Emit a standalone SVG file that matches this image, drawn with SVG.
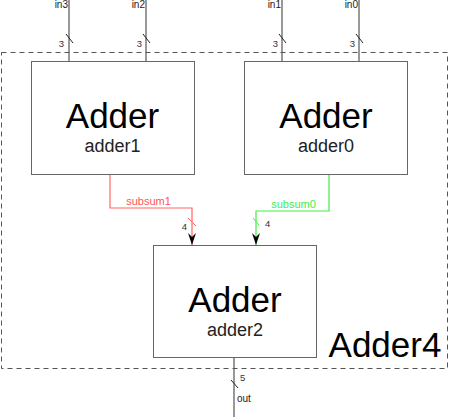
<svg xmlns="http://www.w3.org/2000/svg" width="450" height="417" viewBox="0 0 450 417">
<style>
.box{fill:#fff;stroke:#666;stroke-width:1}
.wire{fill:none;stroke:#555;stroke-width:1.2}
.red{fill:none;stroke:#ff6666;stroke-width:1.2}
.green{fill:none;stroke:#44ee44;stroke-width:1.2}
.tick{stroke:#222;stroke-width:1}
.big{font-family:"Liberation Sans",Arial,sans-serif;font-size:35px;fill:#000;text-anchor:middle}
.inst{font-family:"Liberation Sans",Arial,sans-serif;font-size:18px;fill:#222;text-anchor:middle}
.lbl{font-family:"Liberation Sans",Arial,sans-serif;font-size:10px;fill:#222}
.w{font-family:"Liberation Sans",Arial,sans-serif;font-size:9.5px;fill:#333}
.sig{font-family:"Liberation Sans",Arial,sans-serif;font-size:11px}
</style>
<defs>
<marker id="arr" markerWidth="10" markerHeight="14" refX="5" refY="13" orient="0" markerUnits="userSpaceOnUse" viewBox="0 0 10 14">
<path d="M5,13 L1,1 L5,5 L9,1 Z" fill="#000"/>
</marker>
</defs>
<rect x="1.5" y="52.5" width="446" height="316" fill="none" stroke="#555" stroke-width="1" stroke-dasharray="5,4"/>
<text class="big" x="385" y="357">Adder4</text>
<g id="connectors">
<path class="wire" d="M69,0 V61"/>
<line class="tick" x1="66" y1="34" x2="73" y2="43"/>
<text class="w" x="64" y="47" text-anchor="end">3</text>
<text class="lbl" x="68" y="8" text-anchor="end">in3</text>
<path class="wire" d="M146,0 V61"/>
<line class="tick" x1="143" y1="34" x2="150" y2="43"/>
<text class="w" x="142" y="47" text-anchor="end">3</text>
<text class="lbl" x="145" y="8" text-anchor="end">in2</text>
<path class="wire" d="M282,0 V61"/>
<line class="tick" x1="279" y1="34" x2="286" y2="43"/>
<text class="w" x="278" y="47" text-anchor="end">3</text>
<text class="lbl" x="281" y="8" text-anchor="end">in1</text>
<path class="wire" d="M359,0 V61"/>
<line class="tick" x1="356" y1="34" x2="363" y2="43"/>
<text class="w" x="355" y="47" text-anchor="end">3</text>
<text class="lbl" x="358" y="8" text-anchor="end">in0</text>
<path class="red" d="M110,174 V208 H192 V245" marker-end="url(#arr)"/>
<line x1="188" y1="218" x2="196" y2="226" stroke="#ff6666" stroke-width="1"/>
<text class="w" x="187" y="230" text-anchor="end">4</text>
<text class="sig" x="148.5" y="205" text-anchor="middle" fill="#ff5555">subsum1</text>
<path class="green" d="M329,174 V211 H256 V245" marker-end="url(#arr)"/>
<line x1="253" y1="218" x2="259" y2="225" stroke="#44ee44" stroke-width="1"/>
<text class="w" x="265" y="227">4</text>
<text class="sig" x="293.5" y="208" text-anchor="middle" fill="#44ee44">subsum0</text>
<path class="wire" d="M234,357 V417"/>
<line class="tick" x1="231" y1="380" x2="238" y2="388"/>
<text class="w" x="240" y="381">5</text>
<text class="lbl" x="237" y="402">out</text>
</g>
<g id="adder1">
<rect class="box" x="31.5" y="61.5" width="163" height="113"/>
<text class="big" x="112.5" y="128">Adder</text>
<text class="inst" x="112.5" y="152">adder1</text>
</g>
<g id="adder0">
<rect class="box" x="244.5" y="61.5" width="163" height="113"/>
<text class="big" x="326" y="128">Adder</text>
<text class="inst" x="326" y="152">adder0</text>
</g>
<g id="adder2">
<rect class="box" x="153.5" y="245.5" width="163" height="112"/>
<text class="big" x="235" y="312">Adder</text>
<text class="inst" x="235" y="336">adder2</text>
</g>
</svg>
